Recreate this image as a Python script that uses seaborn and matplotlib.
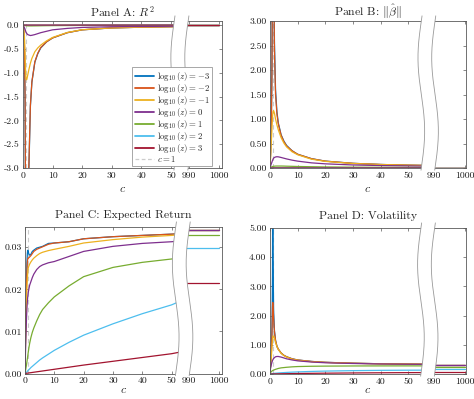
import numpy as np
import pandas as pd
import matplotlib
matplotlib.use("Agg")
import matplotlib.pyplot as plt
import seaborn as sns

# ---------------- data ----------------
log_z = [-3, -2, -1, 0, 1, 2, 3]
series_labels = [r"$\log_{10}(z) = %d$" % z if z >= 0 else r"$\log_{10}(z) = -%d$" % (-z) for z in log_z]
colors = ["#0072BD", "#D95319", "#EDB120", "#7E2F8E", "#77AC30", "#4DBEEE", "#A2142F"]

c_main = [0.0, 0.2, 0.5, 0.7, 0.8, 0.9, 1.0, 1.1, 1.3, 1.6, 2.0, 2.5, 3.0, 4.0, 5.0,
          6.0, 8.0, 10.0, 15.0, 20.0, 30.0, 40.0, 50.0, 57.0]
c_right = [989.0, 1000.0]

x_ticks = [0, 10, 20, 30, 40, 50, 990, 1000]
x_ticklabels = ["0", "10", "20", "30", "40", "50", "990", "1000"]

# Panel A: R^2
r2_main = {
    -3: [0, -0.06, -0.5, -1.6, -3.1, -7, -40, -15, -6, -3.9, -3.0, -1.7, -1.2, -0.78, -0.6, -0.48, -0.35, -0.27, -0.16, -0.1, -0.06, -0.045, -0.035, -0.033],
    -2: [0, -0.05, -0.45, -1.5, -2.9, -6, -30, -12, -5.5, -3.7, -2.9, -1.68, -1.19, -0.77, -0.59, -0.47, -0.35, -0.27, -0.16, -0.1, -0.06, -0.045, -0.035, -0.033],
    -1: [0, -0.03, -0.25, -0.6, -0.85, -1.02, -1.12, -1.15, -1.14, -1.05, -0.93, -0.8, -0.7, -0.56, -0.48, -0.42, -0.33, -0.26, -0.155, -0.098, -0.059, -0.044, -0.035, -0.033],
    0: [0, -0.02, -0.06, -0.09, -0.11, -0.13, -0.15, -0.16, -0.18, -0.2, -0.21, -0.22, -0.215, -0.2, -0.18, -0.16, -0.13, -0.1, -0.07, -0.05, -0.035, -0.03, -0.025, -0.024],
    1: [0, -0.003, -0.008, -0.01, -0.012, -0.013, -0.014, -0.015, -0.016, -0.017, -0.018, -0.018, -0.018, -0.017, -0.016, -0.015, -0.013, -0.012, -0.01, -0.008, -0.006, -0.005, -0.004, -0.004],
    2: [0, -0.0005, -0.001, -0.0012, -0.0013, -0.0014, -0.0015, -0.0016, -0.0017, -0.0018, -0.002, -0.002, -0.002, -0.002, -0.002, -0.002, -0.002, -0.002, -0.0018, -0.0016, -0.0013, -0.0011, -0.001, -0.001],
    3: [0, -0.0001, -0.0001, -0.0001, -0.0001, -0.0001, -0.0001, -0.0001, -0.0001, -0.0001, -0.0002, -0.0002, -0.0002, -0.0002, -0.0002, -0.0002, -0.0002, -0.0002, -0.0002, -0.0002, -0.0002, -0.0002, -0.0002, -0.0002],
}
r2_right = {-3: [-0.004, -0.004], -2: [-0.004, -0.004], -1: [-0.004, -0.004], 0: [-0.003, -0.003],
            1: [-0.002, -0.002], 2: [-0.001, -0.001], 3: [0.0, 0.0]}

# Panel B: norm of beta-hat
beta_main = {
    -3: [0, 0.3, 1.0, 2.0, 3.2, 6, 40, 12, 5, 2.6, 1.6, 1.15, 0.92, 0.68, 0.55, 0.46, 0.35, 0.28, 0.19, 0.14, 0.095, 0.072, 0.058, 0.052],
    -2: [0, 0.28, 0.95, 1.9, 3.0, 5.5, 30, 10, 4.5, 2.4, 1.5, 1.1, 0.9, 0.67, 0.54, 0.45, 0.35, 0.28, 0.19, 0.14, 0.095, 0.072, 0.058, 0.052],
    -1: [0, 0.2, 0.55, 0.8, 0.92, 1.03, 1.1, 1.15, 1.17, 1.12, 1.0, 0.88, 0.78, 0.62, 0.51, 0.43, 0.33, 0.27, 0.18, 0.135, 0.092, 0.07, 0.057, 0.051],
    0: [0, 0.04, 0.09, 0.12, 0.14, 0.15, 0.165, 0.18, 0.2, 0.215, 0.225, 0.23, 0.228, 0.215, 0.2, 0.185, 0.16, 0.14, 0.105, 0.085, 0.062, 0.05, 0.042, 0.038],
    1: [0, 0.01, 0.02, 0.025, 0.028, 0.03, 0.032, 0.033, 0.035, 0.037, 0.039, 0.04, 0.04, 0.04, 0.039, 0.037, 0.034, 0.031, 0.026, 0.022, 0.017, 0.014, 0.012, 0.011],
    2: [0, 0.001, 0.002, 0.003, 0.003, 0.003, 0.0035, 0.0035, 0.0037, 0.004, 0.004, 0.0042, 0.0043, 0.0044, 0.0045, 0.0045, 0.0045, 0.0045, 0.0043, 0.004, 0.0036, 0.0032, 0.003, 0.003],
    3: [0, 0.0002, 0.0003, 0.0003, 0.0003, 0.0003, 0.0004, 0.0004, 0.0004, 0.0004, 0.0004, 0.0004, 0.0004, 0.0004, 0.0004, 0.0004, 0.0004, 0.0004, 0.0004, 0.0004, 0.0004, 0.0004, 0.0004, 0.0004],
}
beta_right = {-3: [0.003, 0.003], -2: [0.003, 0.003], -1: [0.003, 0.003], 0: [0.003, 0.003],
              1: [0.002, 0.002], 2: [0.001, 0.001], 3: [0.0003, 0.0003]}

# Panel C: expected return
ret_main = {
    -3: [0, 0.012, 0.023, 0.027, 0.0285, 0.0292, 0.0293, 0.029, 0.0284, 0.0281, 0.0283, 0.029, 0.0293, 0.0298, 0.030, 0.0302, 0.0309, 0.031, 0.0313, 0.032, 0.0325, 0.0328, 0.0331, 0.0332],
    -2: [0, 0.01, 0.021, 0.025, 0.0265, 0.027, 0.0274, 0.0274, 0.0275, 0.0277, 0.028, 0.0285, 0.029, 0.0295, 0.0298, 0.0301, 0.0307, 0.031, 0.0313, 0.032, 0.0325, 0.0328, 0.0331, 0.0332],
    -1: [0, 0.008, 0.017, 0.021, 0.0225, 0.0235, 0.0245, 0.025, 0.0255, 0.026, 0.0265, 0.027, 0.0274, 0.028, 0.0285, 0.0288, 0.0292, 0.0295, 0.0302, 0.031, 0.0318, 0.0324, 0.0328, 0.033],
    0: [0, 0.006, 0.013, 0.016, 0.017, 0.018, 0.0186, 0.0192, 0.020, 0.021, 0.0218, 0.0228, 0.0236, 0.0247, 0.0254, 0.0258, 0.0263, 0.0266, 0.0278, 0.029, 0.0302, 0.0309, 0.0313, 0.0315],
    1: [0, 0.0008, 0.002, 0.003, 0.0035, 0.004, 0.0045, 0.005, 0.006, 0.0072, 0.0085, 0.0098, 0.0108, 0.0125, 0.014, 0.0152, 0.0168, 0.0182, 0.0208, 0.023, 0.0252, 0.0264, 0.0272, 0.0275],
    2: [0, 0.0001, 0.0003, 0.0004, 0.0005, 0.0006, 0.0007, 0.0008, 0.0009, 0.0011, 0.0014, 0.0017, 0.002, 0.0026, 0.0032, 0.0037, 0.0046, 0.0055, 0.0074, 0.0091, 0.0118, 0.0142, 0.0163, 0.0172],
    3: [0, 0.00002, 0.00005, 0.00007, 0.00008, 0.00009, 0.0001, 0.00011, 0.00013, 0.00016, 0.0002, 0.00025, 0.0003, 0.0004, 0.0005, 0.0006, 0.0008, 0.001, 0.0015, 0.002, 0.0029, 0.0038, 0.0047, 0.0051],
}
ret_right = {-3: [0.0341, 0.0341], -2: [0.0341, 0.0341], -1: [0.0340, 0.0340], 0: [0.0340, 0.0340],
             1: [0.0330, 0.0330], 2: [0.0299, 0.0299], 3: [0.0214, 0.0214]}

# Panel D: volatility
vol_main = {
    -3: [0.0, 0.3, 0.8, 1.5, 2.2, 3.5, 8, 4, 2.2, 1.5, 1.15, 0.95, 0.85, 0.72, 0.64, 0.59, 0.52, 0.48, 0.43, 0.40, 0.37, 0.35, 0.34, 0.335],
    -2: [0.0, 0.3, 0.75, 1.3, 1.8, 2.3, 2.45, 2.35, 1.9, 1.45, 1.15, 0.95, 0.85, 0.72, 0.64, 0.59, 0.52, 0.48, 0.43, 0.40, 0.37, 0.35, 0.34, 0.335],
    -1: [0.0, 0.25, 0.6, 0.9, 1.05, 1.17, 1.25, 1.3, 1.3, 1.22, 1.08, 0.94, 0.84, 0.71, 0.63, 0.58, 0.51, 0.47, 0.42, 0.395, 0.365, 0.35, 0.34, 0.335],
    0: [0.0, 0.2, 0.33, 0.4, 0.43, 0.46, 0.48, 0.5, 0.53, 0.56, 0.59, 0.6, 0.6, 0.58, 0.55, 0.52, 0.48, 0.45, 0.41, 0.385, 0.36, 0.345, 0.335, 0.33],
    1: [0.0, 0.05, 0.08, 0.1, 0.11, 0.115, 0.12, 0.125, 0.135, 0.145, 0.16, 0.175, 0.19, 0.21, 0.22, 0.23, 0.245, 0.255, 0.265, 0.27, 0.275, 0.277, 0.278, 0.278],
    2: [0, 0.005, 0.01, 0.013, 0.015, 0.017, 0.018, 0.019, 0.021, 0.024, 0.027, 0.031, 0.035, 0.042, 0.048, 0.054, 0.064, 0.072, 0.088, 0.1, 0.115, 0.125, 0.13, 0.132],
    3: [0, 0.0005, 0.001, 0.0015, 0.0017, 0.002, 0.0022, 0.0024, 0.0028, 0.0033, 0.004, 0.005, 0.006, 0.008, 0.0095, 0.011, 0.014, 0.017, 0.023, 0.028, 0.036, 0.042, 0.047, 0.049],
}
vol_right = {-3: [0.31, 0.31], -2: [0.31, 0.31], -1: [0.31, 0.31], 0: [0.30, 0.30],
             1: [0.25, 0.25], 2: [0.17, 0.17], 3: [0.08, 0.08]}

# ---------------- style ----------------
sns.set_theme(style="ticks")
plt.rcParams.update({
    "font.family": "serif",
    "font.serif": ["cmr10", "DejaVu Serif"],
    "mathtext.fontset": "cm",
    "axes.unicode_minus": False,
    "axes.edgecolor": "0.35",
    "axes.linewidth": 0.6,
    "xtick.color": "0.35",
    "ytick.color": "0.35",
    "xtick.labelcolor": "0.1",
    "ytick.labelcolor": "0.1",
})


def make_df(main, right):
    rows = []
    for z, lab in zip(log_z, series_labels):
        for c, v in zip(c_main, main[z]):
            rows.append((c, v, lab, f"{z}_m"))
        for c, v in zip(c_right, right[z]):
            rows.append((c, v, lab, f"{z}_r"))
    return pd.DataFrame(rows, columns=["c", "value", "series", "unit"])


def broken_scale(a, xs, p990, b, r0=989.0):
    u_xs = a * xs
    u_r0 = p990 + (r0 - 990.0) * b

    def fwd(x):
        x = np.asarray(x, dtype=float)
        mid = u_xs + (x - xs) * (u_r0 - u_xs) / (r0 - xs)
        return np.where(x <= xs, a * x, np.where(x >= r0, p990 + (x - 990.0) * b, mid))

    def inv(u):
        u = np.asarray(u, dtype=float)
        mid = xs + (u - u_xs) * (r0 - xs) / (u_r0 - u_xs)
        return np.where(u <= u_xs, u / a, np.where(u >= u_r0, 990.0 + (u - p990) / b, mid))

    return fwd, inv


def draw_break(ax, xc, hw=0.035, amp=0.017):
    y = np.linspace(-0.015, 1.035, 200)
    s = 1.0 - y
    off = -amp * np.sin(2 * np.pi * s)
    xl = xc - hw + off
    xr = xc + hw + off
    ax.fill(np.concatenate([xl, xr[::-1]]), np.concatenate([y, y[::-1]]),
            color="white", transform=ax.transAxes, clip_on=False, zorder=5, lw=0)
    for xx in (xl, xr):
        ax.plot(xx, y, color="0.6", lw=0.6, transform=ax.transAxes, clip_on=False, zorder=6)


fig = plt.figure(figsize=(4.74, 3.99), dpi=100)
W, H = 474.0, 399.0
panels = [
    dict(key="A", title=r"Panel A: $R^2$", main=r2_main, right=r2_right,
         rect=[23 / W, 1 - 168 / H, 199 / W, 147 / H], ylim=(-3.0, 0.085),
         yticks=[-3.0, -2.5, -2.0, -1.5, -1.0, -0.5, 0.0], yfmt="%.1f",
         scale=(0.744 / 50, 53.0, 0.834, 0.0151), xr=1001.0, band=0.795, tpad=3.5, xpad=3),
    dict(key="B", title=r"Panel B: $\|\hat{\beta}\|$", main=beta_main, right=beta_right,
         rect=[270 / W, 1 - 168 / H, 196 / W, 147 / H], ylim=(0.0, 3.0),
         yticks=[0.0, 0.5, 1.0, 1.5, 2.0, 2.5, 3.0], yfmt="%.2f",
         scale=(0.706 / 50, 57.0, 0.834, 0.0161), xr=1000.3, band=0.807, tpad=3.5, xpad=3),
    dict(key="C", title="Panel C: Expected Return", main=ret_main, right=ret_right,
         rect=[25 / W, 1 - 373.5 / H, 197 / W, 146.5 / H], ylim=(0.0, 0.0348),
         yticks=[0.0, 0.01, 0.02, 0.03], yfmt="%.2f",
         scale=(0.744 / 50, 53.0, 0.834, 0.0151), xr=1001.0, band=0.80, tpad=6.5, xpad=0),
    dict(key="D", title="Panel D: Volatility", main=vol_main, right=vol_right,
         rect=[270 / W, 1 - 374 / H, 196 / W, 146 / H], ylim=(0.0, 5.0),
         yticks=[0.0, 1.0, 2.0, 3.0, 4.0, 5.0], yfmt="%.2f",
         scale=(0.706 / 50, 57.0, 0.834, 0.0161), xr=1000.3, band=0.805, tpad=6.5, xpad=0),
]

palette = dict(zip(series_labels, colors))

for p in panels:
    ax = fig.add_axes(p["rect"])
    fwd, inv = broken_scale(*p["scale"])
    ax.set_xscale("function", functions=(fwd, inv))
    ax.axvline(1.0, color="0.8", ls=(0, (4, 3)), lw=0.8, zorder=1.5)
    df = make_df(p["main"], p["right"])
    sns.lineplot(data=df, x="c", y="value", hue="series", hue_order=series_labels,
                 palette=palette, units="unit", estimator=None, sort=False,
                 lw=0.9, ax=ax, legend=(p["key"] == "A"))
    ax.set_xlim(0, p["xr"])
    ax.set_ylim(*p["ylim"])
    ax.set_xticks(x_ticks)
    ax.set_xticklabels(x_ticklabels)
    ax.set_xticks([], minor=True)
    ax.set_yticks(p["yticks"])
    ax.set_yticklabels([p["yfmt"] % v for v in p["yticks"]])
    ax.tick_params(direction="in", top=True, right=True, length=2.5, width=0.5,
                   labelsize=7, pad=2.5)
    ax.set_xlabel("$c$", fontsize=8.5, labelpad=p["xpad"])
    ax.set_ylabel("")
    ax.set_title(p["title"], fontsize=8.5, pad=p["tpad"])
    for sp in ax.spines.values():
        sp.set_visible(True)
    draw_break(ax, p["band"])
    if p["key"] == "A":
        old = ax.get_legend()
        handles = list(old.legend_handles)
        labels = [t.get_text() for t in old.texts]
        old.remove()
        for h in handles:
            h.set_linewidth(1.3)
        dash = matplotlib.lines.Line2D([], [], color="0.8", ls=(0, (3, 2)), lw=0.9)
        leg = ax.legend(handles + [dash], labels + ["$c = 1$"], loc="lower right",
                        bbox_to_anchor=(0.95, 0.012), fontsize=6.3, frameon=True,
                        fancybox=False, edgecolor="0.6", framealpha=1.0,
                        handlelength=2.2, labelspacing=-0.12, borderpad=0.3,
                        handletextpad=0.3, borderaxespad=0.0)
        leg.get_frame().set_linewidth(0.6)
        leg.set_zorder(10)

fig.savefig("out.png", dpi=100, facecolor="white")
